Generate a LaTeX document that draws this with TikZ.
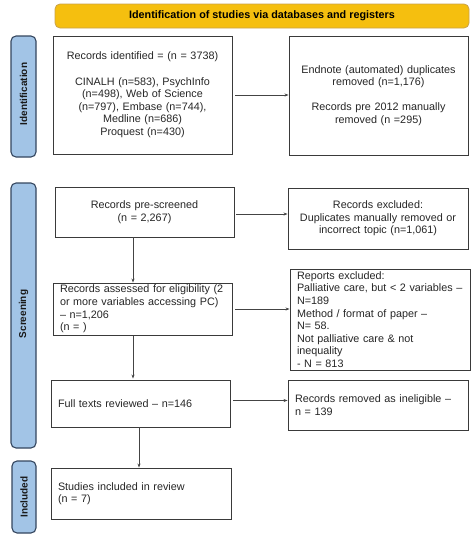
\documentclass[tikz,border=0pt]{standalone}
\usepackage{fontspec}
\setmainfont{Liberation Sans}
\usetikzlibrary{arrows.meta}
\definecolor{bannerfill}{HTML}{F5BF0F}
\definecolor{bannerdraw}{HTML}{C9A24A}
\definecolor{sidefill}{HTML}{A2C4E6}
\definecolor{sidedraw}{HTML}{34465E}
\definecolor{boxdraw}{HTML}{3A3A3A}
\definecolor{arrdraw}{HTML}{444444}
\tikzset{
  every node/.style={font=\fontsize{10.8}{12.6}\selectfont},
  box/.style={draw=boxdraw, line width=0.9pt, fill=white, inner xsep=7pt, inner ysep=2pt, text=black!85},
  cbox/.style={box, align=center},
  lbox/.style={box, align=left},
  banner/.style={draw=bannerdraw, line width=0.8pt, fill=bannerfill, rounded corners=5pt, font=\fontsize{10.8}{12.6}\selectfont\bfseries},
  side/.style={draw=sidedraw, line width=1.1pt, fill=sidefill, rounded corners=5pt},
  sidetext/.style={rotate=90, font=\fontsize{10}{12}\selectfont\bfseries, text=black!90},
  arr/.style={draw=arrdraw, line width=0.6pt, -{Stealth[length=4pt,width=3pt]}}
}
\begin{document}
\begin{tikzpicture}[x=1pt,y=-1pt]
\useasboundingbox (0,0) rectangle (474,546);
% banner
\node[banner, minimum width=414pt, minimum height=24pt] (ban) at (262,16) {Identification of studies via databases and registers};
% side labels
\node[side, minimum width=25pt, minimum height=121pt] (s1) at (23.5,96.5) {};
\node[sidetext] (s1t) at (23.5,94) {Identification};
\node[side, minimum width=25pt, minimum height=265pt] (s2) at (23.5,315.5) {};
\node[sidetext] (s2t) at (23.5,314) {Screening};
\node[side, minimum width=24pt, minimum height=72pt] (s3) at (24,497) {};
\node[sidetext] (s3t) at (24,497) {Included};
% boxes
\node[cbox, minimum width=179pt, minimum height=118pt, text width=165pt] (b1) at (142.5,95) {Records identified = (n = 3738)\\[12.6pt]CINALH (n=583), PsychInfo\\(n=498), Web of Science\\(n=797), Embase (n=744),\\Medline (n=686)\\Proquest (n=430)};
\node[cbox, minimum width=179pt, minimum height=119pt, text width=165pt] (b2) at (378.5,95.5) {Endnote (automated) duplicates\\removed (n=1,176)\\[12.6pt]Records pre 2012 manually\\removed (n =295)};
\node[cbox, minimum width=179pt, minimum height=50pt, text width=165pt] (b3) at (144.5,212) {Records pre-screened\\(n = 2,267)};
\node[cbox, minimum width=180pt, minimum height=61pt, text width=166pt] (b4) at (378,218.5) {Records excluded:\\Duplicates manually removed or\\incorrect topic (n=1,061)};
\node[lbox, minimum width=179pt, minimum height=52pt, text width=165pt] (b5) at (142.5,309) {Records assessed for eligibility (2\\or more variables accessing PC)\\– n=1,206\\(n = )};
\node[lbox, minimum width=180pt, minimum height=101pt, text width=166pt] (b6) at (380,319.5) {Reports excluded:\\Palliative care, but < 2 variables –\\N=189\\Method / format of paper –\\N= 58.\\Not palliative care \& not\\inequality\\- N = 813};
\node[lbox, minimum width=179pt, minimum height=47pt, text width=165pt] (b7) at (140.5,403.5) {Full texts reviewed – n=146};
\node[lbox, minimum width=180pt, minimum height=50pt, text width=166pt] (b8) at (378,405) {Records removed as ineligible –\\n = 139};
\node[lbox, minimum width=180pt, minimum height=51pt, text width=166pt] (b9) at (141,493.5) {Studies included in review\\(n = 7)};
% connectors
\draw[arr, shorten <=3pt] (b1.east) -- (b1.east -| b2.west);
\draw[arr, shorten <=2pt] ([yshift=-2pt]b3.east) -- ([yshift=-2pt]b3.east -| b4.west);
\draw[arr, shorten <=3pt] (b5.east) -- (b5.east -| b6.west);
\draw[arr, shorten <=3pt] ([yshift=3pt]b7.east) -- ([yshift=3pt]b7.east -| b8.west);
\draw[arr] ([xshift=-11.5pt]b3.south) -- ([xshift=-11.5pt]b3.south |- b5.north);
\draw[arr, shorten <=1pt, shorten >=1pt] ([xshift=-9.5pt]b5.south) -- ([xshift=-9.5pt]b5.south |- b7.north);
\draw[arr] ([xshift=-1.5pt]b7.south) -- ([xshift=-1.5pt]b7.south |- b9.north);
\end{tikzpicture}
\end{document}
